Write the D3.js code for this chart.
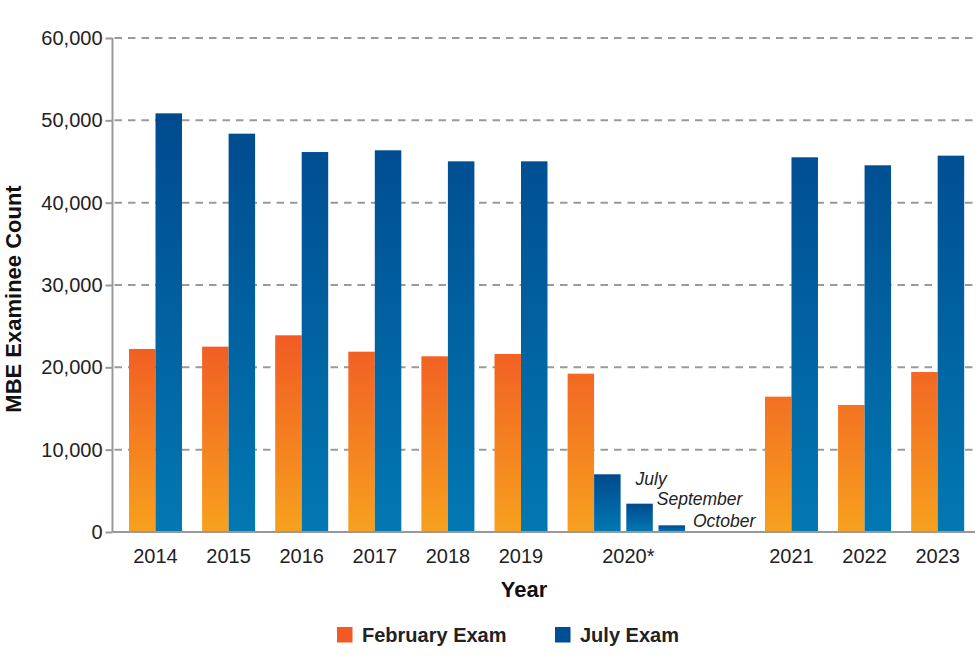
<!DOCTYPE html>
<html>
<head>
<meta charset="utf-8">
<script src="https://cdn.jsdelivr.net/npm/d3@7/dist/d3.min.js"></script>
<style>
  html, body { margin: 0; padding: 0; background: #fff; }
  svg { display: block; font-family: "Liberation Sans", Arial, sans-serif; }
</style>
</head>
<body>
<svg id="chart" width="980" height="667"></svg>
<script>
// ---- Data ----
const years = ["2014", "2015", "2016", "2017", "2018", "2019", "2020*", "2021", "2022", "2023"];
const februaryExam = [22230, 22510, 23890, 21900, 21340, 21620, 19230, 16440, 15430, 19430];
const julyExam = [50850, 48380, 46150, 46360, 45020, 45020, 7010, 45510, 44540, 45710];
const extra2020Labels = ["July", "September", "October"];
const extra2020Values = [3440, 810]; // September, October 2020 administrations
const yTicks = [0, 10000, 20000, 30000, 40000, 50000, 60000];
const seriesNames = ["February Exam", "July Exam"];

// ---- Layout ----
const svg = d3.select("#chart");
const W = 980, H = 667;
const plotLeft = 112.5, plotRight = 975, plotTop = 38, plotBottom = 532;
const slotStart = 129, slotWidth = 73.1, barW = 26.5, extraGap = 5.7;
const covidIndex = years.indexOf("2020*");
const covidExtraSlots = 1.7;

const y = d3.scaleLinear().domain([0, 60000]).range([plotBottom, plotTop]);
const slotOf = i => i + (i > covidIndex ? covidExtraSlots : 0);
const x = d3.scaleLinear().domain([0, 1]).range([slotStart, slotStart + slotWidth]);

// gradients
const defs = svg.append("defs");
const og = defs.append("linearGradient").attr("id", "gOrange").attr("x1", 0).attr("y1", 0).attr("x2", 0).attr("y2", 1);
og.append("stop").attr("offset", "0%").attr("stop-color", "#f15a24");
og.append("stop").attr("offset", "100%").attr("stop-color", "#f7a11e");
const bg = defs.append("linearGradient").attr("id", "gBlue").attr("x1", 0).attr("y1", 0).attr("x2", 0).attr("y2", 1);
bg.append("stop").attr("offset", "0%").attr("stop-color", "#004a8e");
bg.append("stop").attr("offset", "100%").attr("stop-color", "#0278b2");
// gradient in user space so that heights map consistently
og.attr("gradientUnits", "userSpaceOnUse").attr("y1", y(24000)).attr("y2", plotBottom).attr("x1", 0).attr("x2", 0);
bg.attr("gradientUnits", "userSpaceOnUse").attr("y1", y(51000)).attr("y2", plotBottom).attr("x1", 0).attr("x2", 0);
const og2 = defs.append("linearGradient").attr("id", "gBlueSmall").attr("x1", 0).attr("y1", 0).attr("x2", 0).attr("y2", 1);
og2.append("stop").attr("offset", "0%").attr("stop-color", "#004a8e");
og2.append("stop").attr("offset", "100%").attr("stop-color", "#0278b2");

// gridlines
const grid = svg.append("g");
grid.selectAll("line").data(yTicks.filter(d => d > 0)).join("line")
  .attr("x1", plotLeft + 2).attr("x2", plotRight)
  .attr("y1", d => y(d)).attr("y2", d => y(d))
  .attr("stroke", "#9a9a9a").attr("stroke-width", 2).attr("stroke-dasharray", "7.5,6");

// y axis
const yAxis = d3.axisLeft(y).tickValues(yTicks).tickFormat(d3.format(",")).tickSize(7).tickPadding(3);
const gy = svg.append("g").attr("transform", `translate(${plotLeft},0)`).call(yAxis);
gy.select(".domain").attr("stroke", "#999").attr("stroke-width", 2).attr("d", `M0,${plotTop}V${plotBottom}`);
gy.selectAll(".tick line").attr("stroke", "#999").attr("stroke-width", 2);
gy.selectAll(".tick text").attr("font-size", 20).attr("fill", "#222").attr("font-family", "'Liberation Sans', Arial, sans-serif");

// bars
const bars = svg.append("g");
years.forEach((yr, i) => {
  const x0 = x(slotOf(i));
  bars.append("rect").attr("x", x0).attr("width", barW)
    .attr("y", y(februaryExam[i])).attr("height", y(0) - y(februaryExam[i]))
    .attr("fill", "url(#gOrange)");
  bars.append("rect").attr("x", x0 + barW).attr("width", barW)
    .attr("y", y(julyExam[i])).attr("height", y(0) - y(julyExam[i]))
    .attr("fill", i === covidIndex ? "url(#gBlueSmall)" : "url(#gBlue)");
});

// extra 2020 administrations
const covidX0 = x(slotOf(covidIndex)) + 2 * barW;
const extraRects = extra2020Values.map((v, k) => ({ v, x: covidX0 + (k + 1) * extraGap + k * barW }));
bars.selectAll("rect.extra").data(extraRects).join("rect").attr("class", "extra")
  .attr("x", d => d.x).attr("width", barW)
  .attr("y", d => y(d.v)).attr("height", d => y(0) - y(d.v))
  .attr("fill", "url(#gBlueSmall)");

// 2020 annotations
const annBars = [{ v: julyExam[covidIndex], right: x(slotOf(covidIndex)) + 2 * barW }]
  .concat(extraRects.map(d => ({ v: d.v, right: d.x + barW })));
const annDx = [15, 4, 8], annDy = [11, 1, 2];
svg.append("g").selectAll("text").data(extra2020Labels).join("text")
  .attr("x", (d, k) => annBars[k].right + annDx[k])
  .attr("y", (d, k) => y(annBars[k].v) + annDy[k])
  .attr("font-size", 17.5).attr("font-style", "italic").attr("fill", "#222")
  .text(d => d);

// baseline
svg.append("line").attr("x1", plotLeft).attr("x2", plotRight)
  .attr("y1", y(0)).attr("y2", y(0)).attr("stroke", "#999").attr("stroke-width", 2);

// x labels
svg.append("g").selectAll("text").data(years).join("text")
  .attr("x", (d, i) => {
    const s = x(slotOf(i));
    return i === covidIndex ? (s + covidX0 + 2 * extraGap + 2 * barW) / 2 + 2 : s + barW;
  })
  .attr("y", 563).attr("text-anchor", "middle")
  .attr("font-size", 20).attr("fill", "#222")
  .text(d => d);

// axis titles
svg.append("text").attr("x", 524).attr("y", 597).attr("text-anchor", "middle")
  .attr("font-size", 22).attr("font-weight", "bold").attr("fill", "#111").text("Year");
svg.append("text").attr("transform", `translate(21,299) rotate(-90)`).attr("text-anchor", "middle")
  .attr("font-size", 22).attr("font-weight", "bold").attr("fill", "#111").text("MBE Examinee Count");

// legend
const legendColors = ["#f15a24", "#004f95"];
const legendX = [337, 555];
const lg = svg.append("g");
seriesNames.forEach((name, k) => {
  lg.append("rect").attr("x", legendX[k]).attr("y", 627).attr("width", 15.5).attr("height", 15.5).attr("fill", legendColors[k]);
  lg.append("text").attr("x", legendX[k] + 25).attr("y", 641.5).attr("font-size", 20).attr("font-weight", "bold")
    .attr("fill", "#222").text(name);
});
</script>
</body>
</html>
